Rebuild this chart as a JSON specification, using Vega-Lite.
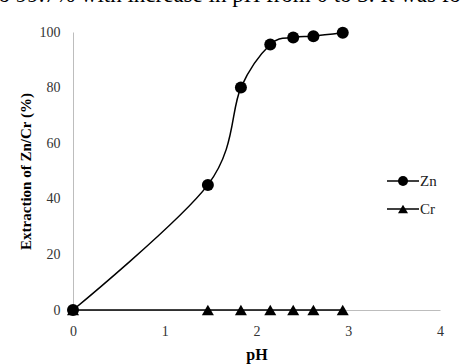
{
  "$schema": "https://vega.github.io/schema/vega-lite/v6.json",
  "width": 367,
  "height": 278,
  "autosize": {"type": "none"},
  "padding": {"left": 73, "top": 32, "right": 34, "bottom": 54},
  "background": "white",
  "title": {
    "text": "to 99.7% with increase in pH from 0 to 3.  It was fo",
    "anchor": "start",
    "frame": "group",
    "orient": "top",
    "font": "Liberation Serif",
    "fontSize": 23,
    "fontWeight": "normal",
    "color": "black",
    "baseline": "alphabetic",
    "dx": -81,
    "offset": 0
  },
  "config": {"view": {"stroke": null}, "font": "Liberation Serif"},
  "data": {
    "values": [
      {"pH": 0, "extraction": 0, "series": "Cr"},
      {"pH": 1.47, "extraction": 0, "series": "Cr"},
      {"pH": 1.83, "extraction": 0, "series": "Cr"},
      {"pH": 2.15, "extraction": 0, "series": "Cr"},
      {"pH": 2.4, "extraction": 0, "series": "Cr"},
      {"pH": 2.62, "extraction": 0, "series": "Cr"},
      {"pH": 2.94, "extraction": 0, "series": "Cr"},
      {"pH": 0, "extraction": 0, "series": "Zn"},
      {"pH": 1.47, "extraction": 45, "series": "Zn"},
      {"pH": 1.83, "extraction": 80, "series": "Zn"},
      {"pH": 2.15, "extraction": 95.5, "series": "Zn"},
      {"pH": 2.4, "extraction": 98, "series": "Zn"},
      {"pH": 2.62, "extraction": 98.5, "series": "Zn"},
      {"pH": 2.94, "extraction": 99.7, "series": "Zn"}
    ]
  },
  "encoding": {
    "x": {
      "field": "pH",
      "type": "quantitative",
      "scale": {"domain": [0, 4], "nice": false},
      "axis": {
        "title": "pH",
        "values": [0, 1, 2, 3, 4],
        "grid": false,
        "ticks": false,
        "labelFlush": false,
        "domainColor": "#bdbdbd",
        "domainWidth": 1,
        "labelFont": "Liberation Serif",
        "labelFontSize": 14,
        "labelColor": "#333333",
        "labelPadding": 14,
        "titleFont": "Liberation Serif",
        "titleFontSize": 16,
        "titleFontWeight": "bold",
        "titleColor": "black",
        "titlePadding": 8
      }
    },
    "y": {
      "field": "extraction",
      "type": "quantitative",
      "scale": {"domain": [0, 100], "nice": false},
      "axis": {
        "title": "Extraction of Zn/Cr (%)",
        "values": [0, 20, 40, 60, 80, 100],
        "grid": false,
        "ticks": false,
        "domainColor": "#bdbdbd",
        "domainWidth": 1,
        "labelFont": "Liberation Serif",
        "labelFontSize": 14,
        "labelColor": "#333333",
        "labelPadding": 13,
        "titleFont": "Liberation Serif",
        "titleFontSize": 15,
        "titleFontWeight": "bold",
        "titleColor": "black",
        "titlePadding": 6
      }
    }
  },
  "layer": [
    {
      "mark": {"type": "line", "interpolate": "cardinal", "strokeWidth": 1.5},
      "encoding": {
        "color": {
          "field": "series",
          "type": "nominal",
          "sort": "descending",
          "scale": {"range": ["black", "black"]},
          "legend": {
            "title": null,
            "orient": "none",
            "legendX": 313,
            "legendY": 141.5,
            "padding": 0,
            "clipHeight": 15,
            "symbolType": "stroke",
            "symbolSize": 1024,
            "symbolStrokeWidth": 1.5,
            "labelExpr": "''",
            "labelFontSize": 15,
            "rowPadding": 12
          }
        }
      }
    },
    {
      "mark": {"type": "point", "filled": true, "color": "black", "opacity": 1, "size": 144},
      "encoding": {
        "shape": {
          "field": "series",
          "type": "nominal",
          "scale": {"domain": ["Zn", "Cr"], "range": ["circle", "triangle-up"]},
          "legend": {
            "title": null,
            "orient": "none",
            "legendX": 322.5,
            "legendY": 141.5,
            "padding": 0,
            "clipHeight": 15,
            "symbolSize": 100,
            "symbolFillColor": "black",
            "symbolStrokeColor": "black",
            "symbolStrokeWidth": 0,
            "symbolOpacity": 1,
            "labelFont": "Liberation Serif",
            "labelFontSize": 15,
            "labelColor": "#222222",
            "labelOffset": 9.5,
            "rowPadding": 12
          }
        }
      }
    }
  ]
}
